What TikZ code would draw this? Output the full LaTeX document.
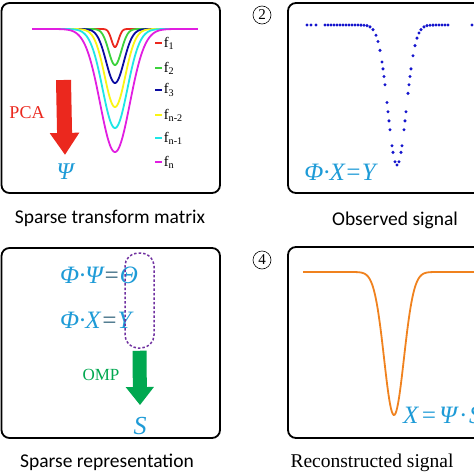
\documentclass[tikz,border=0pt]{standalone}
\usepackage{fontspec}
\setmainfont{Liberation Serif}
\setsansfont{Carlito}
\usetikzlibrary{arrows.meta}

\definecolor{eqblue}{RGB}{30,155,215}
\definecolor{dotblue}{RGB}{20,20,205}
\definecolor{sigorange}{RGB}{240,130,30}
\definecolor{ompgreen}{RGB}{0,168,80}
\definecolor{selpurple}{RGB}{112,48,160}
\definecolor{fred}{RGB}{235,40,30}
\definecolor{fgreen}{RGB}{60,210,60}
\definecolor{fblue}{RGB}{10,10,160}
\definecolor{fyellow}{RGB}{250,245,20}
\definecolor{fcyan}{RGB}{30,230,230}
\definecolor{fmagenta}{RGB}{225,30,225}

\tikzset{
  panel/.style={draw=black, line width=1.8pt, rounded corners=8pt},
  caption/.style={font=\sffamily\fontsize{19.5}{22}\selectfont},
  eq/.style={text=eqblue, inner sep=0pt, font=\fontsize{25}{25}\selectfont\itshape},
  curve/.style={line width=1.8pt},
  legtext/.style={right, inner sep=1pt, text=black, font=\fontsize{14.5}{14.5}\selectfont},
  numcircle/.style={circle, draw, line width=0.6pt, inner sep=0pt, minimum size=18pt, font=\fontsize{15}{15}\selectfont}
}

\begin{document}
\begin{tikzpicture}[x=1pt, y=-1pt, font=\sffamily]
        \useasboundingbox (0,0) rectangle (474,474);
        \clip (0,0) rectangle (474,474);
        \fill[white] (0,0) rectangle (474,474);
        \draw[panel] (1.5,3) rectangle (220,193);
        \draw[panel] (288,3) rectangle (530,193);
        \draw[panel] (1.5,248) rectangle (220,438);
        \draw[panel] (288,247) rectangle (530,438);
        \foreach \d/\w/\c in {18/5/fred, 36/9/fgreen, 54/12.5/fblue, 78/14.5/fyellow, 99/17.5/fcyan, 123/21/fmagenta}
            \draw[\c, curve] plot[domain=32:198, samples=220] (\x, {29+\d*exp(-((\x-115)/\w)^2)});
        \foreach \y/\c/\t [count=\i] in {43/fred/1, 68/fgreen/2, 90/fblue/3, 115/fyellow/n-2, 138/fcyan/n-1, 162/fmagenta/n}
            \draw[\c, curve] (155,\y) -- (162,\y) node[legtext] (leg\i) {f\textsubscript{\t}};
        \coordinate (pcatop) at (63.5,80);
        \node[eq, font=\fontsize{24}{24}\selectfont\itshape] (psi) at (65,172) {Ψ};
        \draw[fred, line width=15pt, -{Triangle[width=28pt, length=22pt]}] (pcatop) -- ([yshift=9pt]psi.north);
        \node[text=fred, font=\rmfamily\fontsize{18}{18}\selectfont] (pca) at (27,113) {PCA};
        \node[caption] (cap1) at (110,218) {Sparse transform matrix};
        \node[numcircle] (num2) at (262,15) {2};
        \foreach \x in {307,311,316,325,328,331,334,337,340,343,346,349,352,355,358,361,364,367,370,373,376,378,380,382,383,384,385,387,388,389,390,392,393,395,397,399,401,402,404,405,406,408,409,410,411,413,415,417,419,421,424,427,430,433,436,439,442,445,448,472}
            \fill[dotblue] (\x, {25+140*exp(-((\x-397)/13)^2)}) circle (1.7);
        \node[eq] (obs) at (340,172) {Φ·X=Y};
        \node[caption] (cap2) at (395,220) {Observed signal};
        \node[eq, anchor=west] (phipsi) at (60,275) {Φ·Ψ\textcolor{eqblue!40!darkgray}{=}Θ};
        \node[eq, anchor=west] (phix) at (60,320) {Φ·X\textcolor{eqblue!40!darkgray}{=}Y};
        \node[draw=selpurple, line width=1.5pt, dash pattern=on 2.5pt off 2pt, rounded corners=13pt, minimum width=29pt, minimum height=95pt] (sel) at (139.5,300.5) {};
        \node[eq, font=\fontsize{26}{26}\selectfont\itshape] (sparse) at (140,426) {S};
        \draw[ompgreen, line width=14pt, -{Triangle[width=27pt, length=18pt]}] ([yshift=-2pt]sel.south) -- ([yshift=12pt]sparse.north);
        \node[text=ompgreen, font=\rmfamily\fontsize{17}{17}\selectfont] (omp) at (101,375) {OMP};
        \node[caption] (cap3) at (107,462) {Sparse representation};
        \node[numcircle] (num4) at (262,260) {4};
        \draw[sigorange, curve] plot[domain=303:480, samples=200] (\x, {272+143*exp(-((\x-394)/14)^2)});
        \node[eq, anchor=west] (recon) at (403,415) {X\kern2pt=\kern2ptΨ\kern3pt·\kern3ptS};
        \node[caption, font=\rmfamily\fontsize{19.5}{22}\selectfont] (cap4) at (372,463) {Reconstructed signal};
    \end{tikzpicture}
\end{document}
